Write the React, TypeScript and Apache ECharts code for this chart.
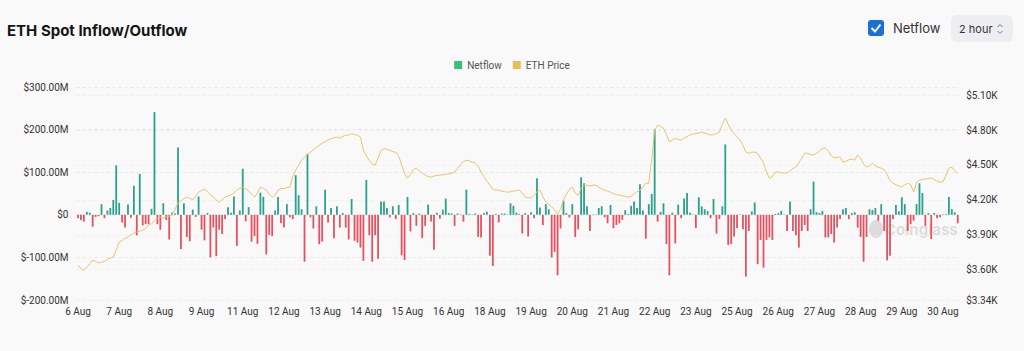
import React, { useEffect, useRef } from "react";
import * as echarts from "echarts";

// 2-hour buckets starting 6 Aug 10:00
const START_MS = Date.UTC(2025, 7, 6, 10);
const STEP_MS = 2 * 3600 * 1000;
const MONTHS = ["Jan", "Feb", "Mar", "Apr", "May", "Jun", "Jul", "Aug", "Sep", "Oct", "Nov", "Dec"];

// Netflow in $M per 2h bucket
const netflow: number[] = [
  -8, -12, -16, 7, 5, -28, -5, -3, 25, -8,
  10, 16, 35, 116, 28, -18, -30, 24, -7, 68,
  -48, 96, -25, -22, -22, 14, 241, -22, -35, 27,
  -12, -58, 5, 3, 158, -80, 27, -52, -62, 12,
  -5, 43, -35, -60, 4, -100, -30, -97, -35, -45,
  -10, 18, 5, 43, -73, 10, 108, -15, 18, -63,
  -50, -68, 52, 42, -93, -47, -50, 10, 42, -20,
  -30, 25, -6, -10, 93, 46, 13, -110, 143, -6,
  -32, 20, -69, -63, 59, -18, 16, -55, 20, -30,
  4, -30, -58, 37, -61, -65, -77, -108, 82, -48,
  -110, -48, -103, 31, 31, 16, -6, 20, -10, 23,
  -95, -106, 42, -39, 4, -26, 3, -55, -26, 24,
  -16, -82, 5, -9, 12, 38, 4, 3, -26, 3,
  1, -16, 59, 2, 1, 3, -52, -53, 4, 7,
  -96, -120, 2, -18, 3, 3, 1, 27, 21, 5,
  2, -44, 4, -51, 6, -8, 86, 17, -24, 25,
  13, -100, -87, -142, -32, 33, 4, -6, 25, -52,
  -34, 88, 74, 20, -38, 1, 1, 16, 20, -6,
  -20, 23, -31, -24, -20, -12, 11, 2, 21, 31,
  16, 72, 10, -56, 25, 49, 200, -16, 7, 27,
  -69, -142, 5, -67, 24, -8, 38, 51, 5, 1,
  -31, 41, 20, 13, 9, -8, 37, -44, -10, 20,
  165, -71, -69, -51, -31, 1, -34, -145, -38, 8,
  29, -116, -59, -124, -59, -53, -59, 2, 4, 9,
  1, -38, 31, -38, -48, -77, -38, -24, -38, 13,
  78, 6, 4, 9, -53, -53, -45, -65, -30, -10,
  13, 16, -10, 4, 6, -30, -52, -110, -52, 13,
  11, 16, -14, 25, -38, -107, -96, -10, 23, 8,
  41, 25, -38, -22, -14, 25, 74, 51, -26, 4,
  -57, 4, -8, -6, 1, 2, 42, 13, 6, -20,
];

// ETH price in $ per 2h bucket
const ethPrice: number[] = [
  3640, 3610, 3597, 3620, 3650, 3683, 3670, 3660, 3665, 3670,
  3690, 3700, 3709, 3770, 3838, 3850, 3872, 3880, 3900, 3915,
  3924, 3930, 3941, 3955, 3984, 3995, 4020, 4040, 4050, 4045,
  4055, 4060, 4070, 4120, 4173, 4190, 4210, 4224, 4215, 4200,
  4230, 4267, 4280, 4293, 4270, 4245, 4224, 4200, 4181, 4200,
  4224, 4235, 4241, 4260, 4285, 4300, 4310, 4295, 4276, 4250,
  4224, 4260, 4310, 4300, 4284, 4250, 4224, 4240, 4284, 4300,
  4295, 4305, 4310, 4400, 4456, 4500, 4540, 4568, 4590, 4610,
  4630, 4650, 4670, 4688, 4700, 4715, 4725, 4735, 4740, 4730,
  4745, 4755, 4757, 4770, 4760, 4757, 4740, 4628, 4580, 4540,
  4510, 4499, 4560, 4628, 4640, 4635, 4625, 4615, 4610, 4580,
  4500, 4430, 4387, 4420, 4460, 4473, 4450, 4430, 4415, 4400,
  4395, 4405, 4410, 4413, 4415, 4420, 4425, 4430, 4439, 4470,
  4500, 4530, 4542, 4535, 4525, 4516, 4490, 4439, 4400, 4360,
  4327, 4290, 4284, 4284, 4275, 4270, 4267, 4270, 4275, 4280,
  4284, 4260, 4224, 4220, 4216, 4240, 4270, 4284, 4230, 4181,
  4160, 4140, 4113, 4078, 4120, 4199, 4250, 4290, 4310, 4260,
  4240, 4300, 4327, 4325, 4320, 4327, 4327, 4310, 4295, 4284,
  4275, 4265, 4255, 4245, 4241, 4235, 4230, 4224, 4230, 4250,
  4270, 4284, 4310, 4344, 4344, 4550, 4800, 4842, 4830, 4816,
  4760, 4697, 4715, 4730, 4720, 4714, 4730, 4745, 4757, 4765,
  4770, 4775, 4782, 4775, 4765, 4757, 4760, 4770, 4782, 4850,
  4902, 4850, 4800, 4770, 4740, 4714, 4670, 4610, 4600, 4610,
  4610, 4600, 4560, 4516, 4440, 4387, 4400, 4439, 4440, 4435,
  4430, 4432, 4450, 4470, 4482, 4520, 4560, 4602, 4600, 4590,
  4585, 4600, 4620, 4640, 4645, 4620, 4580, 4559, 4565, 4568,
  4525, 4530, 4545, 4550, 4542, 4585, 4560, 4510, 4482, 4490,
  4516, 4490, 4480, 4473, 4460, 4420, 4365, 4345, 4330, 4320,
  4310, 4330, 4344, 4330, 4267, 4350, 4370, 4375, 4380, 4385,
  4387, 4375, 4360, 4353, 4355, 4413, 4473, 4482, 4450, 4430,
];

const categories: number[] = netflow.map((_, i) => START_MS + i * STEP_MS);
const priceTicks: number[] = [3340, 3600, 3900, 4200, 4500, 4800, 5100];

const GREEN = "#2ba08c";
const RED = "#e5525f";
const GOLD = "#e8c46c";
const FONT = "Inter, 'Noto Sans', sans-serif";
const AXIS_FONT = "Roboto, 'Noto Sans', sans-serif";

export default function App() {
  const ref = useRef<HTMLDivElement>(null);
  useEffect(() => {
    if (!ref.current) return;
    const chart = echarts.init(ref.current, undefined, { renderer: "svg" });
    chart.setOption({
      animation: false,
      backgroundColor: "#f9f9f9",
      textStyle: { fontFamily: AXIS_FONT },
      title: {
        text: "ETH Spot Inflow/Outflow",
        left: 2,
        top: 18,
        textStyle: { fontSize: 15, fontWeight: 700, color: "#151515", fontFamily: FONT },
      },
      legend: {
        top: 55,
        left: "center",
        icon: "rect",
        itemWidth: 8,
        itemHeight: 8,
        itemGap: 11,
        textStyle: { fontSize: 10, color: "#555", fontFamily: AXIS_FONT },
        data: [
          { name: "Netflow", itemStyle: { color: "#3cbf79" } },
          { name: "ETH Price", itemStyle: { color: "#e9bd55" } },
        ],
      },
      graphic: [
        { type: "rect", shape: { x: 868, y: 20, width: 16, height: 16, r: 3 }, style: { fill: "#1b6fd6" } },
        {
          type: "polyline",
          shape: { points: [[871.5, 28], [875, 31.5], [880.5, 24.5]] },
          style: { stroke: "#fff", lineWidth: 2, fill: null },
        },
        {
          type: "text",
          x: 893,
          y: 28,
          style: { text: "Netflow", fontSize: 13, fill: "#333", fontFamily: FONT, verticalAlign: "middle" },
        },
        { type: "rect", shape: { x: 951, y: 15, width: 62, height: 27, r: 6 }, style: { fill: "#eceef2" } },
        {
          type: "text",
          x: 959,
          y: 29,
          style: { text: "2 hour", fontSize: 11, fill: "#333", fontFamily: FONT, verticalAlign: "middle" },
        },
        {
          type: "polyline",
          shape: { points: [[997.5, 27], [1000, 24.5], [1002.5, 27]] },
          style: { stroke: "#777", lineWidth: 1, fill: null },
        },
        {
          type: "polyline",
          shape: { points: [[997.5, 31], [1000, 33.5], [1002.5, 31]] },
          style: { stroke: "#777", lineWidth: 1, fill: null },
        },
        {
          type: "ellipse",
          shape: { cx: 876, cy: 229, rx: 7, ry: 9 },
          style: { fill: "rgba(150,150,150,0.3)" },
        },
        {
          type: "text",
          x: 885,
          y: 229,
          style: {
            text: "Coinglass",
            fontSize: 15,
            fontWeight: 700,
            fill: "rgba(150,150,150,0.3)",
            fontFamily: FONT,
            verticalAlign: "middle",
          },
        },
      ],
      grid: { left: 76.5, right: 64.8, top: 87, bottom: 51, containLabel: false },
      xAxis: {
        type: "category",
        data: categories,
        boundaryGap: true,
        axisLine: { show: false },
        axisTick: { show: false },
        axisLabel: {
          interval: 13,
          margin: 6,
          fontSize: 10,
          color: "#333",
          fontFamily: AXIS_FONT,
          formatter: (v: string) => {
            const d = new Date(Number(v));
            return `${d.getUTCDate()} ${MONTHS[d.getUTCMonth()]}`;
          },
        },
      },
      yAxis: [
        {
          type: "value",
          min: -200,
          max: 300,
          interval: 100,
          axisLine: { show: false },
          axisTick: { show: false },
          splitLine: { lineStyle: { color: "#e8e8e8", type: [3, 3] } },
          axisLabel: {
            margin: 8,
            fontSize: 10,
            color: "#333",
            fontFamily: AXIS_FONT,
            formatter: (v: number) => (v === 0 ? "$0" : `$${v.toFixed(2)}M`),
          },
        },
        {
          type: "value",
          min: 3340,
          max: 5170,
          position: "right",
          axisLine: { show: false },
          axisTick: { show: false, customValues: priceTicks },
          splitLine: { show: true, lineStyle: { color: "#efefef", type: [3, 3] } },
          axisLabel: {
            margin: 7,
            fontSize: 10,
            color: "#333",
            fontFamily: AXIS_FONT,
            customValues: priceTicks,
            formatter: (v: number) => `$${(v / 1000).toFixed(2)}K`,
          },
        },
      ],
      series: [
        {
          name: "Netflow",
          type: "bar",
          data: netflow,
          barWidth: 1.8,
          itemStyle: { color: (p: any) => (p.value >= 0 ? GREEN : RED) },
        },
        {
          name: "ETH Price",
          type: "line",
          yAxisIndex: 1,
          data: ethPrice,
          showSymbol: false,
          symbol: "none",
          lineStyle: { width: 1, color: GOLD },
          itemStyle: { color: GOLD },
        },
      ],
    });
    return () => chart.dispose();
  }, []);
  return (
    <div
      ref={ref}
      style={{ position: "fixed", left: 0, top: 0, width: 1024, height: 351, background: "#f9f9f9" }}
    />
  );
}
